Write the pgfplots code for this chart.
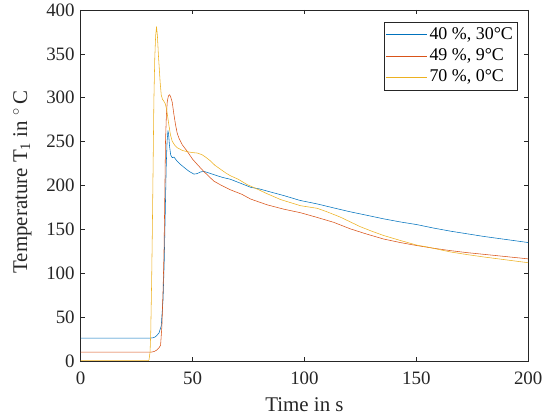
\documentclass[border=0pt]{standalone}
\usepackage{pgfplots}
\pgfplotsset{compat=1.18}
\usepackage{fontspec}
\setmainfont{Liberation Serif}
\definecolor{mblue}{rgb}{0,0.447,0.741}
\definecolor{mred}{rgb}{0.85,0.325,0.098}
\definecolor{myellow}{rgb}{0.929,0.694,0.125}
\definecolor{axgray}{rgb}{0.15,0.15,0.15}
\begin{document}
\begin{tikzpicture}
\path[use as bounding box] (-80.7bp,-58bp) rectangle (469.3bp,361bp);
\begin{axis}[
  scale only axis, width=447.5bp, height=351bp,
  xmin=0, xmax=200, ymin=0, ymax=400,
  xtick={0,50,100,150,200}, ytick={0,50,100,150,200,250,300,350,400},
  tick align=inside, major tick length=4.5bp,
  axis line style={color=axgray, line width=0.6bp},
  every tick/.style={color=axgray, line width=0.6bp},
  /pgf/number format/assume math mode=true,
  every tick label/.append style={font=\fontsize{19}{22}\selectfont, text=axgray},
  yticklabel style={xshift=-2.5bp},
  xticklabel style={yshift=-7.5bp},
  xlabel={Time in s},
  ylabel={Temperature T\textsubscript{1} in $^\circ$\,C},
  label style={font=\fontsize{21}{24}\selectfont, text=axgray},
  xlabel style={at={(axis description cs:0.5,-0.1425)}, anchor=base},
  ylabel style={at={(axis description cs:-0.12,0.51)}, anchor=base, rotate=0},
  legend cell align=left,
  legend image code/.code={\draw[#1] (0bp,0bp) -- (41bp,0bp);},
  legend style={at={(axis description cs:1,1)}, anchor=north east,
    xshift=-11bp, yshift=-11.7bp, draw=axgray, line width=0.6bp,
    font=\fontsize{18}{21}\selectfont, text=black,
    inner sep=2bp, row sep=0bp,
    nodes={inner xsep=2bp, inner ysep=2bp, text height=13bp, text depth=4.3bp}},
  every axis plot/.append style={line width=0.55bp, line join=round},
]
\addplot[mblue] coordinates {
(0,26) (30,26) (32,26.3) (33,27) (34,29) (35,32) (36,40) (36.8,70) (37.3,110) (37.8,170) (38.2,220) (38.6,250) (39,262.5) (39.3,258) (39.7,245) (40.2,235) (40.9,231.7) (41.7,232.4) (43,228) (44.6,224) (46.5,220) (48.5,216) (50.6,213) (52,213.5) (53.6,215.5) (55,216) (56.5,215) (60,212) (63,209.5) (67,207) (72,202) (75.9,198) (80,196) (85,192.5) (90.8,188.5) (98,183) (105.7,179) (113,174.5) (120.5,170) (128,166) (135.4,162) (142.8,158.5) (150.3,155.4) (157.7,151.5) (165.2,148) (172.6,145) (180,142) (190,138.5) (200,135)
};
\addlegendentry{40 \%, 30°C}
\addplot[mred] coordinates {
(0,10) (31,10) (32,10.3) (33,11) (34,12.5) (35,15) (35.7,18) (36.3,40) (36.8,80) (37.2,120) (37.6,190) (37.9,250) (38.3,280) (38.7,296) (39.2,302) (39.7,303.5) (40.2,301) (40.9,295) (41.6,282) (42.4,269) (43.1,260) (43.9,254) (45.5,246) (47.6,239) (50,230) (52.1,224) (55,216) (59.5,205) (63,200) (67,195) (72,190) (75.9,184.6) (83.3,178) (90.8,173) (98.2,169) (105.7,163.6) (113.1,158) (120.5,150.6) (128,144.5) (135.4,139) (142.8,135) (150.3,131.5) (157.7,128.5) (165.2,125.8) (172.6,123.5) (180,121.6) (190,119) (200,116.4)
};
\addlegendentry{49 \%, 9°C}
\addplot[myellow] coordinates {
(0,0.3) (30,0.3) (30.5,1) (31,10) (31.3,32) (31.7,90) (32,145) (32.4,230) (32.7,296) (33.1,345) (33.5,371) (33.9,381) (34.3,370) (34.7,350) (35,338) (35.5,318) (36,303) (36.6,298) (37.2,296) (37.8,293) (38.4,287) (38.9,278) (39.4,269) (40.1,258) (40.9,250.5) (42,246) (43.2,243) (45.4,240) (47.6,238.5) (50,237.5) (52.1,237) (54.3,235) (56,232) (58,228) (60,223) (62.5,218.5) (65,214) (67,211) (70.5,207) (74.4,201) (78,197) (83,191) (89.3,184) (98.2,177) (105.7,174) (110.1,170) (116,164) (120.5,158.5) (125,153) (130,148) (135.4,143) (142.8,137.4) (150.3,132) (154.8,130) (165.2,124.3) (172.6,121.3) (180,118.6) (190,115.3) (200,112)
};
\addlegendentry{70 \%, 0°C}
\end{axis}
\end{tikzpicture}
\end{document}
